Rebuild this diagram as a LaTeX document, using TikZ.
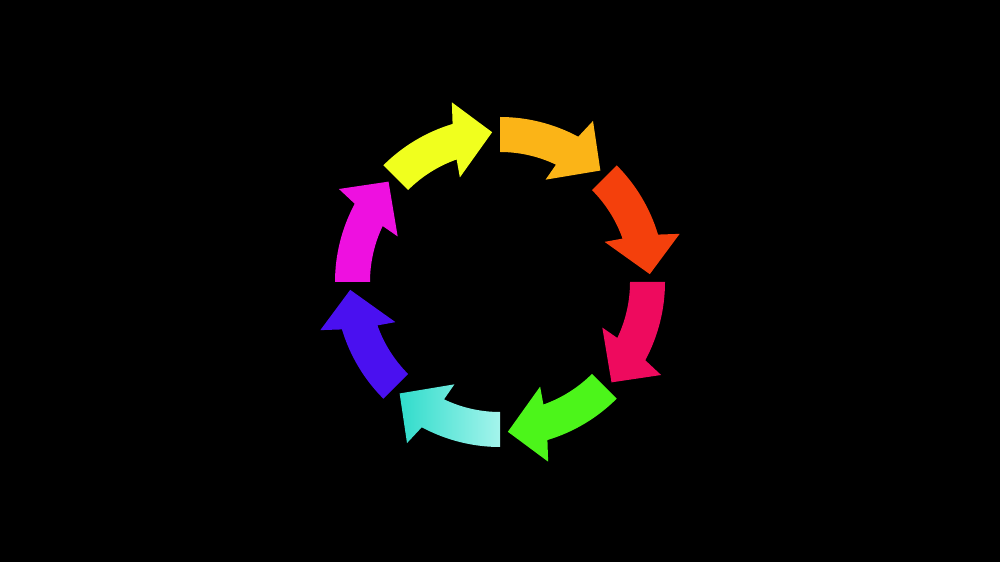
\documentclass[tikz,border=0pt]{standalone}
\begin{document}
\begin{tikzpicture}[x=1pt,y=1pt]
\definecolor{cYellow}{HTML}{F0FF1E}
\definecolor{cOrange}{HTML}{FBB417}
\definecolor{cRed}{HTML}{F4400C}
\definecolor{cCrimson}{HTML}{EE0A5E}
\definecolor{cGreen}{HTML}{4CF51A}
\definecolor{cCyanA}{HTML}{30DCCB}
\definecolor{cCyanB}{HTML}{A4F4EC}
\definecolor{cBlue}{HTML}{4A10F0}
\definecolor{cMagenta}{HTML}{EE10E0}
\fill[black] (0,0) rectangle (1000,562);
\useasboundingbox (0,0) rectangle (1000,562);
\newcommand{\cyclearrow}[2]{%
  \path[#2] (#1:165) -- (#1:130)
    arc[start angle=#1, end angle=#1-25.5, radius=130]
    -- (#1-24:112) -- (#1-42:150) -- (#1-30:186) -- (#1-28.3:165)
    arc[start angle=#1-28.3, end angle=#1, radius=165] -- cycle;}
\begin{scope}[shift={(500,280)}]
  \cyclearrow{90}{fill=cOrange}
  \cyclearrow{45}{fill=cRed}
  \cyclearrow{0}{fill=cCrimson}
  \cyclearrow{-45}{fill=cGreen}
  \cyclearrow{-90}{left color=cCyanA, right color=cCyanB}
  \cyclearrow{-135}{fill=cBlue}
  \cyclearrow{180}{fill=cMagenta}
  \cyclearrow{135}{fill=cYellow}
\end{scope}
\end{tikzpicture}
\end{document}
